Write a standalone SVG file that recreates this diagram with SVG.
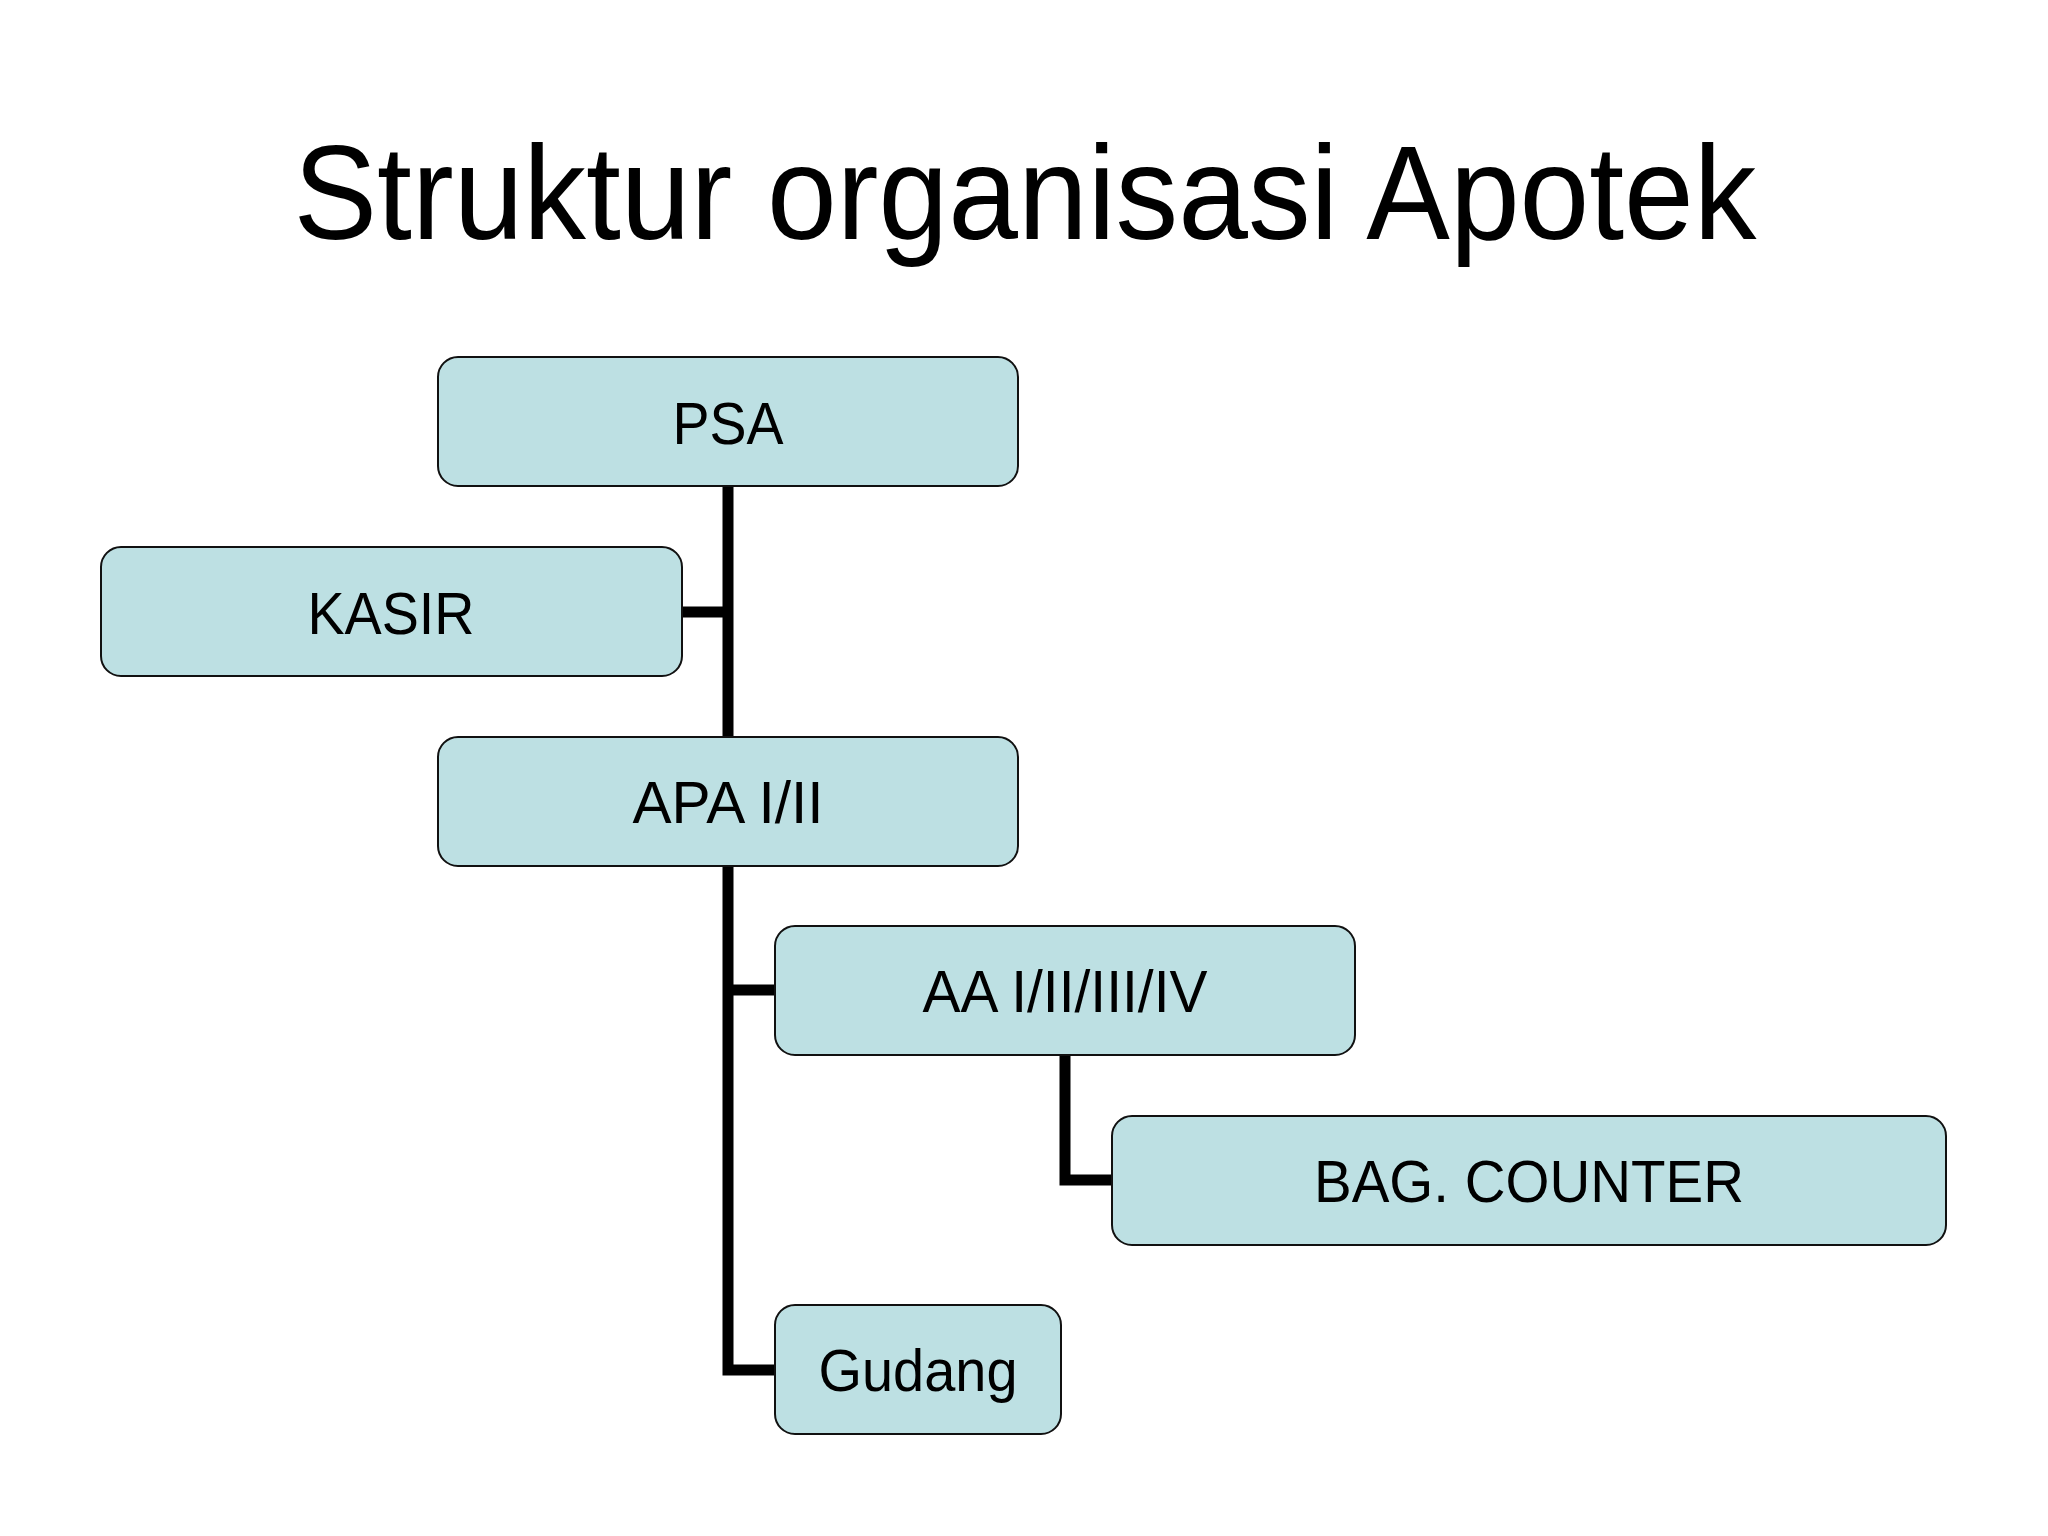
<svg xmlns="http://www.w3.org/2000/svg" width="2048" height="1536" viewBox="0 0 2048 1536">
<style>
.box{fill:#bde0e3;stroke:#111;stroke-width:2}
.lbl{font-family:"Liberation Sans",Arial,sans-serif;font-size:60px;fill:#000;text-anchor:middle}
.title{font-family:"Liberation Sans",Arial,sans-serif;font-size:133px;fill:#000;text-anchor:middle}
.conn{fill:none;stroke:#000;stroke-width:11;stroke-linejoin:miter;stroke-linecap:butt}
</style>
<rect width="2048" height="1536" fill="#fff"/>
<text class="title" x="1025" y="239" textLength="1463" lengthAdjust="spacingAndGlyphs">Struktur organisasi Apotek</text>
<g id="connectors">
<path class="conn" d="M728 486 V737"/>
<path class="conn" d="M682 612 H728"/>
<path class="conn" d="M728 866 V1370 H775"/>
<path class="conn" d="M728 990 H775"/>
<path class="conn" d="M1065 1055 V1180 H1112"/>
</g>
<g id="psa"><rect class="box" x="438" y="357" width="580" height="129" rx="20"/><text class="lbl" x="728" y="444" textLength="111" lengthAdjust="spacingAndGlyphs">PSA</text></g>
<g id="kasir"><rect class="box" x="101" y="547" width="581" height="129" rx="20"/><text class="lbl" x="391" y="634" textLength="167" lengthAdjust="spacingAndGlyphs">KASIR</text></g>
<g id="apa"><rect class="box" x="438" y="737" width="580" height="129" rx="20"/><text class="lbl" x="728" y="823" textLength="191" lengthAdjust="spacingAndGlyphs">APA I/II</text></g>
<g id="aa"><rect class="box" x="775" y="926" width="580" height="129" rx="20"/><text class="lbl" x="1065" y="1012" textLength="285" lengthAdjust="spacingAndGlyphs">AA I/II/III/IV</text></g>
<g id="bag-counter"><rect class="box" x="1112" y="1116" width="834" height="129" rx="20"/><text class="lbl" x="1529" y="1202" textLength="430" lengthAdjust="spacingAndGlyphs">BAG. COUNTER</text></g>
<g id="gudang"><rect class="box" x="775" y="1305" width="286" height="129" rx="20"/><text class="lbl" x="918" y="1391" textLength="199" lengthAdjust="spacingAndGlyphs">Gudang</text></g>
</svg>
